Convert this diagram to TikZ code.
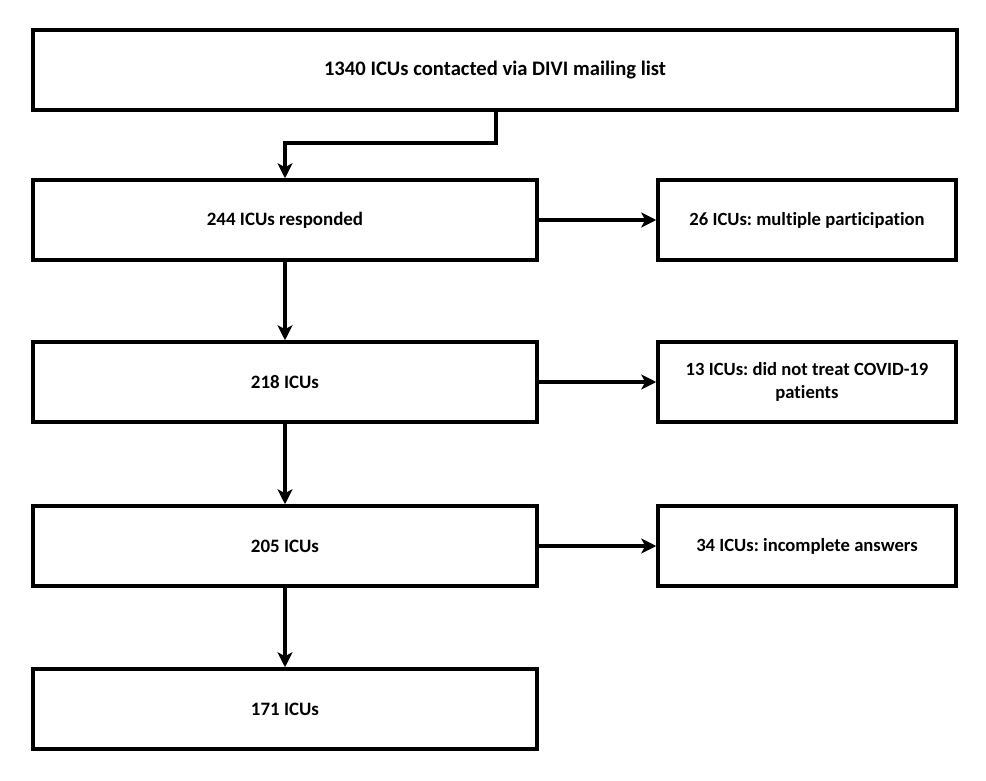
\documentclass[tikz,border=0pt]{standalone}
\usepackage{fontspec}
\setmainfont{Carlito}[Ligatures=NoCommon]
\usetikzlibrary{arrows.meta}
\begin{document}
\frenchspacing
\begin{tikzpicture}[x=1bp,y=-1bp,
  boxstyle/.style={draw=black, line width=3.5bp, inner sep=0pt, font=\bfseries\fontsize{19}{23}\selectfont, align=center},
  mainbox/.style={boxstyle, minimum width=504bp, minimum height=80bp},
  sidebox/.style={boxstyle, minimum width=298bp, minimum height=80bp, font=\bfseries\fontsize{18.7}{23}\selectfont},
  conn/.style={line width=3.2bp, -{Stealth[length=15bp,width=15bp,inset=4bp]}}]
\useasboundingbox (0,0) rectangle (986,781);
\node[boxstyle, minimum width=924bp, minimum height=80bp, font=\bfseries\fontsize{20.7}{25}\selectfont] (top) at (495,70) {1340 ICUs contacted via DIVI mailing list};
\node[mainbox] (b2) at (285,220) {244 ICUs responded};
\node[mainbox] (b3) at (285,382) {218 ICUs};
\node[mainbox] (b4) at (285,546) {205 ICUs};
\node[mainbox] (b5) at (285,709) {171 ICUs};
\node[sidebox] (s1) at (807,220) {26 ICUs: multiple participation};
\node[sidebox] (s2) at (807,382) {13 ICUs: did not treat COVID-19\\patients};
\node[sidebox] (s3) at (807,546) {34 ICUs: incomplete answers};
\coordinate (k1) at (496,143);
\coordinate (k2) at (285,143);
\draw[conn] (top.south -| k1) -- (k1) -- (k2) -- (b2.north);
\draw[conn] (b2) -- (b3);
\draw[conn] (b3) -- (b4);
\draw[conn] (b4) -- (b5);
\draw[conn] (b2) -- (s1);
\draw[conn] (b3) -- (s2);
\draw[conn] (b4) -- (s3);
\end{tikzpicture}
\end{document}
